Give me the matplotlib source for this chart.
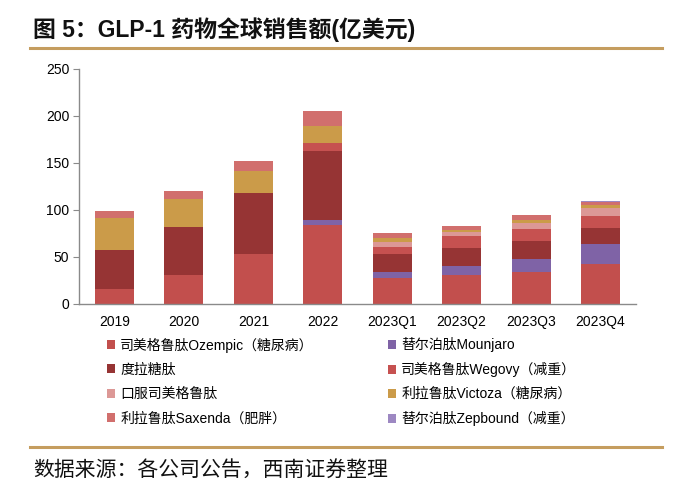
import matplotlib
matplotlib.use("Agg")
import matplotlib.pyplot as plt
from matplotlib.patches import Patch
from matplotlib.lines import Line2D
import numpy as np

plt.rcParams['font.family'] = ['Liberation Sans', 'Noto Sans CJK SC', 'DejaVu Sans']

categories = ['2019', '2020', '2021', '2022', '2023Q1', '2023Q2', '2023Q3', '2023Q4']
ozempic     = [16, 31, 53, 84, 27.5, 31, 34, 42]
mounjaro    = [0, 0, 0, 5, 6, 9.5, 14, 22]
dulaglutide = [41, 51, 64.5, 73, 19.5, 19, 18.5, 16.5]
wegovy      = [0, 0, 0, 9, 7, 12, 12.5, 13]
oral_sema   = [0, 0, 0, 0, 5.5, 4.5, 7, 8.5]
victoza     = [34, 29, 23.5, 18, 4.5, 2.5, 3.5, 3]
saxenda     = [8, 8.5, 10.5, 16, 5, 4, 4.5, 3]
zepbound    = [0, 0, 0, 0, 0, 0, 0, 1.7]

series_names = ['司美格鲁肽Ozempic（糖尿病）', '替尔泊肽Mounjaro', '度拉糖肽',
                '司美格鲁肽Wegovy（减重）', '口服司美格鲁肽', '利拉鲁肽Victoza（糖尿病）',
                '利拉鲁肽Saxenda（肥胖）', '替尔泊肽Zepbound（减重）']
series_values = [ozempic, mounjaro, dulaglutide, wegovy, oral_sema, victoza, saxenda, zepbound]
colors = ['#C24F4D', '#7F63A6', '#963434', '#C65150', '#DC9896', '#CB9B49', '#D16F6D', '#9D88C2']
y_ticks = [0, 50, 100, 150, 200, 250]

fig = plt.figure(figsize=(6.84, 5.0), dpi=100)
ax = fig.add_axes([79/684, 1-303.7/500, (636-79)/684, (303.7-68.7)/500])

x = np.arange(len(categories))
bottom = np.zeros(len(categories))
for name, vals, c in zip(series_names, series_values, colors):
    v = np.array(vals, dtype=float)
    ax.bar(x, v, width=0.56, bottom=bottom, color=c, linewidth=0)
    bottom += v

ax.set_xlim(-0.51, len(categories) - 0.49)
ax.set_ylim(0, 250)
ax.set_yticks(y_ticks)
ax.set_xticks(x)
ax.set_xticklabels(categories)
for s in ['top', 'right']:
    ax.spines[s].set_visible(False)
for s in ['left', 'bottom']:
    ax.spines[s].set_color('#8A8A8A')
    ax.spines[s].set_linewidth(1.0)
ax.tick_params(axis='y', length=4, color='#8A8A8A', labelsize=10, pad=3)
ax.tick_params(axis='x', length=0, labelsize=10, pad=8)

# Legend entries placed row by row (two columns, row-major order as in the reference)
row_y = [345, 369.5, 394, 418.5]
col_x = [107, 388]
handles = [Patch(facecolor=c, edgecolor='none') for c in colors]
for i, name in enumerate(series_names):
    r, col = divmod(i, 2)
    fig.legend([handles[i]], [name], frameon=False, fontsize=10,
               handlelength=0.6, handleheight=0.6, handletextpad=0.35,
               borderpad=0, borderaxespad=0, loc='center left',
               bbox_to_anchor=(col_x[col]/684, 1-row_y[r]/500))

# Title and decorative lines
fig.text(33/684, 1-30/500, '图 5：GLP-1 药物全球销售额(亿美元)', fontsize=16.5,
         fontweight='bold', va='center', ha='left', color='#111111')
fig.add_artist(Line2D([30/684, 662/684], [1-48/500, 1-48/500], color='#C59D5F', linewidth=2.2))
fig.add_artist(Line2D([30/684, 662/684], [1-447/500, 1-447/500], color='#C59D5F', linewidth=2.2))
fig.text(33/684, 1-470/500, '数据来源：各公司公告，西南证券整理', fontsize=15,
         va='center', ha='left', color='#111111')

fig.savefig('out.png', dpi=100)
